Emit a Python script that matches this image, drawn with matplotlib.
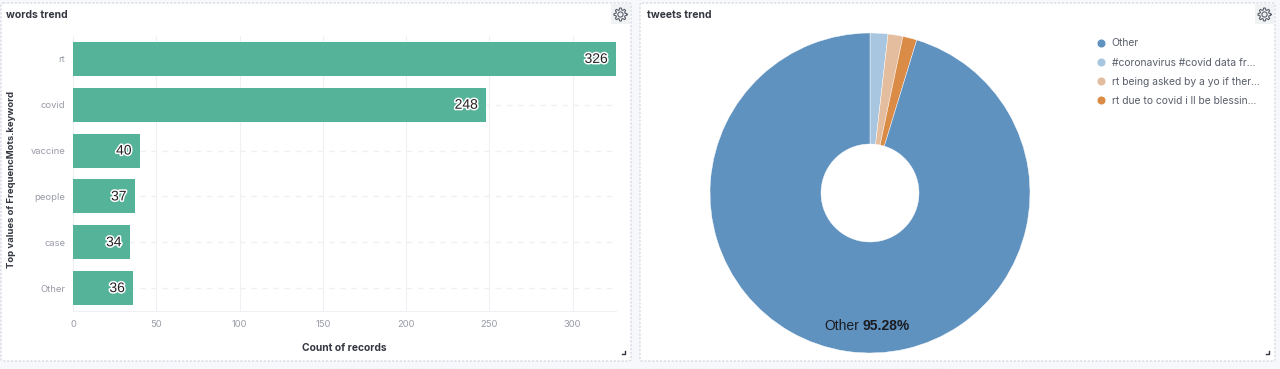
import numpy as np
import matplotlib
matplotlib.use("Agg")
import matplotlib.pyplot as plt
import matplotlib.patheffects as pe
from matplotlib.lines import Line2D
from matplotlib.patches import FancyBboxPatch, Rectangle, Circle

plt.rcParams['font.family'] = ['Inter', 'DejaVu Sans']

words = ["rt", "covid", "vaccine", "people", "case", "Other"]
word_counts = [326, 248, 40, 37, 34, 36]
x_ticks = [0, 50, 100, 150, 200, 250, 300]

tweets = ["Other", "#coronavirus #covid data fr...",
          "rt being asked by a yo if ther...", "rt due to covid i ll be blessin..."]
tweet_shares = [95.28, 1.8, 1.5, 1.42]
tweet_colors = ["#6092C0", "#A8C6E0", "#E4BD9E", "#DA8B45"]

W, H = 1280, 369
BAR_COLOR = "#54B399"
TITLE_COLOR = "#343741"
TICK_COLOR = "#9A9CA8"
BORDER = "#D0D3DE"


def px_axes(fig, left, top, right, bottom):
    return fig.add_axes([left / W, 1 - bottom / H, (right - left) / W, (bottom - top) / H])


def gear(ax, cx, cy, r=6.5):
    # small outline gear, as in the panel menu button
    t = np.linspace(0, 2 * np.pi, 161)
    rad = r * (0.86 + 0.14 * np.clip(2.2 * np.cos(8 * t), -1, 1))
    ax.plot(cx + rad * np.cos(t), cy + rad * np.sin(t), color="#5a5f6a", lw=0.8, zorder=4)
    ax.add_patch(Circle((cx, cy), 2.6, fill=False, ec="#5a5f6a", lw=0.8, zorder=4))


fig = plt.figure(figsize=(W / 100, H / 100), dpi=100, facecolor="#F7F8FC")

# page layer in pixels: panels, borders, menu buttons
bg = fig.add_axes([0, 0, 1, 1], zorder=0)
bg.set_xlim(0, W)
bg.set_ylim(H, 0)
bg.axis("off")
for left, right in [(1, 631), (640, 1275)]:
    bg.add_patch(FancyBboxPatch((left + 2, 5), right - left - 4, 354,
                                boxstyle="round,pad=2", fc="white", ec=BORDER,
                                lw=0.8, ls=(0, (2, 1.5))))
    bg.add_patch(Rectangle((right - 20, 4), 19, 20, fc="#F1F2F4", ec="none", zorder=3))
    gear(bg, right - 10.5, 14.5)
    bg.plot([right - 9, right - 6, right - 6], [354, 354, 351], color="#343741", lw=1)
bg.plot([321, 950], [368.5, 368.5], color=BORDER, lw=0.8, ls=(0, (2, 1.5)))
bg.text(6, 14.5, "words trend", fontsize=7.5, fontweight="bold", color=TITLE_COLOR, va="center")
bg.text(647, 14.5, "tweets trend", fontsize=7.5, fontweight="bold", color=TITLE_COLOR, va="center")

# bar chart
ax = px_axes(fig, 73, 36, 616, 311)
ax.patch.set_alpha(0)
ax.set_zorder(1)
pos = np.arange(len(words))
ax.barh(pos, word_counts, height=0.745, color=BAR_COLOR, zorder=3)
ax.set_xlim(0, 326)
ax.set_ylim(5.5, -0.5)
ax.set_yticks(pos, words)
ax.set_xticks(x_ticks)
ax.tick_params(length=0, labelsize=6.8, labelcolor=TICK_COLOR)
ax.tick_params(axis="x", pad=6.5)
ax.tick_params(axis="y", pad=5.5)
ax.grid(axis="x", color="#EEF0F3", lw=0.8, zorder=0)
ax.grid(axis="y", color="#EEF0F3", lw=1, ls=(0, (4, 4)), zorder=0)
ax.set_axisbelow(True)
for side in ["top", "right", "left"]:
    ax.spines[side].set_visible(False)
ax.spines["bottom"].set_color("#EEF0F3")
for p, v in zip(pos, word_counts):
    ax.annotate(str(v), (v, p), xytext=(-5.8, 0), textcoords="offset points", ha="right",
                va="center", fontsize=10, family="Liberation Sans", color="#222222", zorder=5,
                path_effects=[pe.withStroke(linewidth=2.2, foreground="white")])
bg.text(344.5, 348, "Count of records", fontsize=7.4, fontweight="bold", color=TITLE_COLOR,
        ha="center", va="center")
bg.text(11.5, 180, "Top values of FrequencMots.keyword", fontsize=6.85, fontweight="bold",
        color=TITLE_COLOR, rotation=90, ha="center", va="center")

# donut
pie = px_axes(fig, 710, 33, 1030, 353)
pie.set_zorder(1)
pie.patch.set_alpha(0)
pie.pie(tweet_shares[1:] + tweet_shares[:1], colors=tweet_colors[1:] + tweet_colors[:1],
        startangle=90, counterclock=False, radius=1,
        wedgeprops=dict(width=1 - 49 / 160, ec="white", lw=0.3))
pie.set_xlim(-1, 1)
pie.set_ylim(-1, 1)
pie.text(-0.066, -0.83, tweets[0], ha="right", va="center", fontsize=10,
         family="Liberation Sans", color="#1a1c21")
pie.text(-0.044, -0.83, "%.2f%%" % tweet_shares[0], ha="left", va="center", fontsize=10,
         family="Liberation Sans", fontweight="bold", color="#1a1c21")

handles = [Line2D([], [], ls="", marker="o", ms=4.8, color=c) for c in tweet_colors]
fig.legend(handles, tweets, loc="upper left", bbox_to_anchor=(1093 / W, 1 - 38.5 / H),
           frameon=False, fontsize=7.45, labelcolor="#5A5F6B", labelspacing=0.885,
           handletextpad=0.35, handlelength=1.45, borderpad=0, borderaxespad=0)

fig.savefig("out.png", dpi=100, facecolor=fig.get_facecolor())
